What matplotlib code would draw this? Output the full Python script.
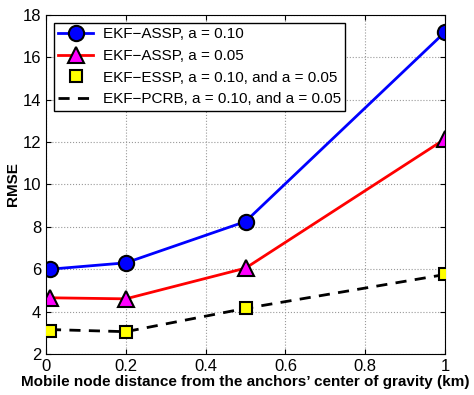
import matplotlib.pyplot as plt
import numpy as np

plt.rcParams['font.family'] = ['Liberation Sans', 'DejaVu Sans']

dist = [0.01, 0.2, 0.5, 1.0]
assp_10 = [6.0, 6.3, 8.25, 17.2]
assp_05 = [4.65, 4.6, 6.05, 12.15]
essp = [3.1, 3.05, 4.15, 5.75]
pcrb = [3.15, 3.05, 4.15, 5.75]

fig = plt.figure(figsize=(4.74, 3.95), dpi=100)
ax = fig.add_axes([0.097, 0.104, 0.842, 0.858])

ax.plot(dist, assp_10, '-o', color='blue', lw=2, ms=11, mfc='blue', mec='black', mew=1.5,
        label='EKF\u2212ASSP, a = 0.10')
ax.plot(dist, assp_05, '-^', color='red', lw=2, ms=11, mfc='magenta', mec='black', mew=1.5,
        label='EKF\u2212ASSP, a = 0.05')
ax.plot(dist, essp, 's', ms=8, mfc='yellow', mec='black', mew=1.5, zorder=4,
        label='EKF\u2212ESSP, a = 0.10, and a = 0.05')
ax.plot(dist, pcrb, '--', color='black', lw=2, dashes=(4, 3),
        label='EKF\u2212PCRB, a = 0.10, and a = 0.05')

ax.set_xlim(0, 1)
ax.set_ylim(2, 18)
ax.set_xticks([0, 0.2, 0.4, 0.6, 0.8, 1])
ax.set_xticklabels(['0', '0.2', '0.4', '0.6', '0.8', '1'])
ax.set_yticks(np.arange(2, 19, 2))
ax.tick_params(direction='in', labelsize=12, top=True, right=True)
ax.grid(True, linestyle=':', color='#999999', lw=0.8)
ax.set_xlabel("Mobile node distance from the anchors\u2019 center of gravity (km)",
              fontsize=11, fontweight='bold', labelpad=1)
ax.set_ylabel('RMSE', fontsize=11, fontweight='bold', labelpad=2)

leg = ax.legend(loc='upper left', fontsize=11, fancybox=False, framealpha=1,
                edgecolor='black', handlelength=2.3, borderaxespad=0.5,
                labelspacing=0.5, borderpad=0.3, handletextpad=0.6)
leg.get_frame().set_linewidth(1)

fig.savefig('out.png', dpi=100)
